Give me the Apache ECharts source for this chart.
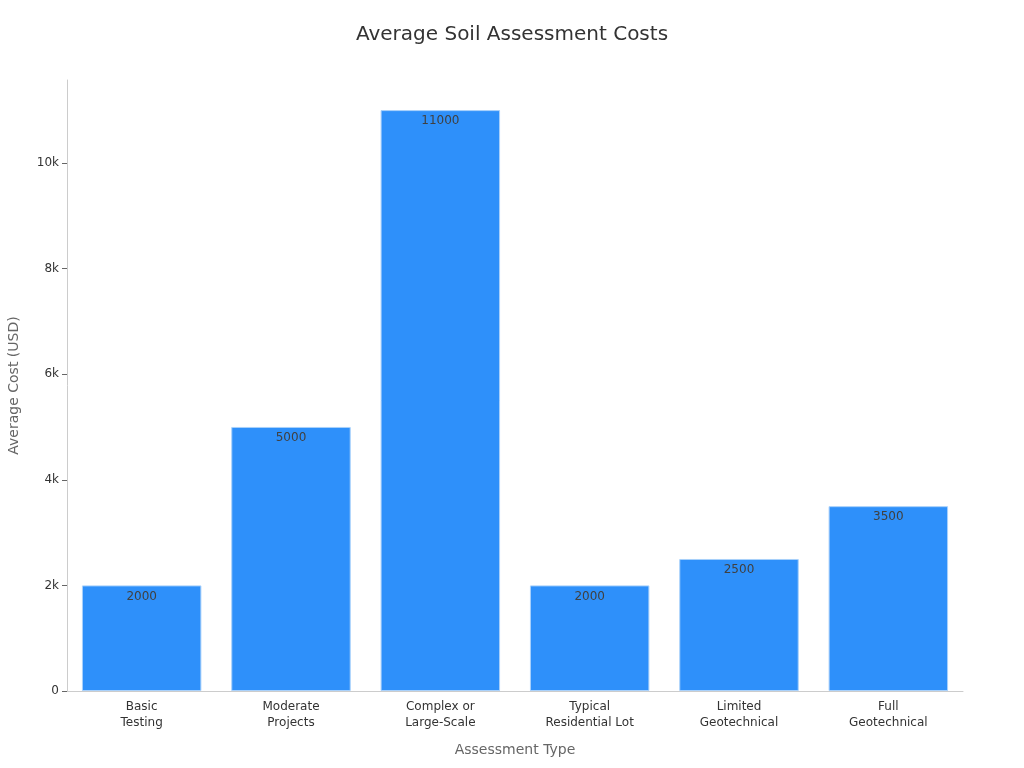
<!DOCTYPE html>
<html>
<head>
<meta charset="utf-8">
<script src="https://cdn.jsdelivr.net/npm/echarts@6/dist/echarts.min.js"></script>
<style>
    html, body { margin: 0; padding: 0; background: #fff; }
    #chart { width: 1024px; height: 768px; }
</style>
</head>
<body>
<div id="chart"></div>
<script>
// categories and values
const categories = [
    "Basic\nTesting",
    "Moderate\nProjects",
    "Complex or\nLarge-Scale",
    "Typical\nResidential Lot",
    "Limited\nGeotechnical",
    "Full\nGeotechnical"
]
const costs = [2000, 5000, 11000, 2000, 2500, 3500]

const chart = echarts.init(document.getElementById("chart"), null, {renderer: "canvas"})

const option = {
    textStyle: {
        fontFamily: "DejaVu Sans"
    },
    title: {
        text: "Average Soil Assessment Costs",
        left: "center",
        top: 20,
        textStyle: {
            fontSize: 20,
            fontWeight: "normal",
            color: "#333"
        }
    },
    grid: {
        left: 67,
        right: 61,
        top: 80,
        bottom: 77,
        containLabel: false,
        outerBoundsMode: "none"
    },
    xAxis: {
        type: "category",
        data: categories,
        name: "Assessment Type",
        nameLocation: "middle",
        nameGap: 52,
        nameTextStyle: {
            fontSize: 14,
            color: "#666"
        },
        axisLine: {
            lineStyle: {color: "#ccc"}
        },
        axisTick: {
            alignWithLabel: true,
            lineStyle: {color: "#666"}
        },
        axisLabel: {
            color: "#333",
            fontSize: 12,
            lineHeight: 16,
            interval: 0
        }
    },
    yAxis: {
        type: "value",
        min: 0,
        max: 11570,
        interval: 2000,
        name: "Average Cost (USD)",
        nameLocation: "middle",
        nameGap: 46,
        nameTextStyle: {
            fontSize: 14,
            color: "#666"
        },
        splitLine: {show: false},
        axisLine: {
            show: true,
            lineStyle: {color: "#ccc"}
        },
        axisTick: {
            show: true,
            lineStyle: {color: "#666"}
        },
        axisLabel: {
            color: "#333",
            fontSize: 12,
            showMaxLabel: false,
            formatter: v => v === 0 ? "0" : (v / 1000) + "k"
        }
    },
    series: [
        {
            type: "bar",
            data: costs,
            barCategoryGap: "20%",
            itemStyle: {
                color: "#2e90fa",
                borderColor: "#a9d1fb",
                borderWidth: 1
            },
            label: {
                show: true,
                position: "insideTop",
                color: "#404040",
                fontSize: 12
            }
        }
    ]
}

chart.setOption(option)
</script>
</body>
</html>
